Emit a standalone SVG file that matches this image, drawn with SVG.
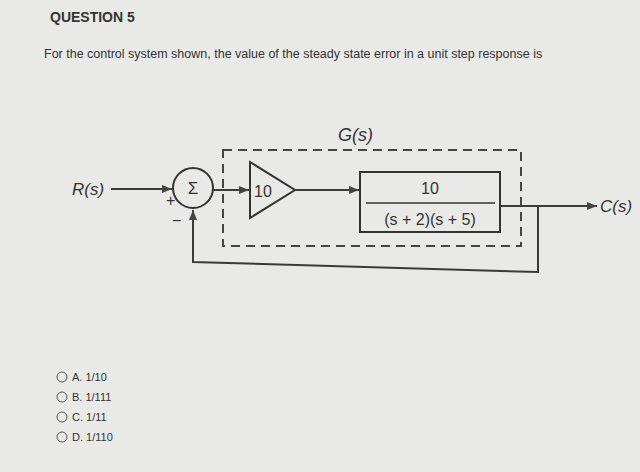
<svg xmlns="http://www.w3.org/2000/svg" width="640" height="472" viewBox="0 0 640 472">
<defs><marker id="a" markerWidth="10" markerHeight="8" refX="10" refY="4" orient="auto" markerUnits="userSpaceOnUse"><path d="M0,0L10,4L0,8z" fill="#444"/></marker>
<style>.l{stroke:#3a3a3a;stroke-width:2;fill:none}.t{font-family:"Liberation Sans",Arial,sans-serif;fill:#333}</style></defs>
<rect width="640" height="472" fill="#e9e9e7"/>
<text class="t" x="50" y="22" font-size="14" font-weight="bold" fill="#222">QUESTION 5</text>
<text class="t" x="44" y="58" font-size="12.5">For the control system shown, the value of the steady state error in a unit step response is</text>
<g id="gs"><rect x="223" y="150" width="298" height="96" fill="none" stroke="#444" stroke-width="2" stroke-dasharray="9,6"/><text class="t" x="338" y="141" font-size="18" font-style="italic">G(s)</text></g>
<g id="sum"><circle cx="193" cy="188" r="20" fill="none" stroke="#333" stroke-width="2"/><text class="t" x="193" y="194" font-size="17" text-anchor="middle">Σ</text><text class="t" x="166" y="206" font-size="16">+</text><text class="t" x="172" y="226" font-size="16">−</text></g>
<g id="gain"><path d="M250,162L295,190L250,218z" fill="none" stroke="#333" stroke-width="2"/><text class="t" x="254" y="197" font-size="16">10</text></g>
<g id="plant"><rect x="360" y="172" width="140" height="60" fill="none" stroke="#333" stroke-width="2"/><line x1="366" y1="203" x2="495" y2="203" stroke="#333" stroke-width="1.5"/><text class="t" x="430" y="194" font-size="16" text-anchor="middle">10</text><text class="t" x="430" y="225" font-size="16" text-anchor="middle">(s + 2)(s + 5)</text></g>
<g id="labels"><text class="t" x="72" y="195" font-size="17" font-style="italic">R(s)</text><text class="t" x="600" y="212" font-size="17" font-style="italic">C(s)</text></g>
<g id="connectors">
<line class="l" x1="111" y1="189" x2="172" y2="189" marker-end="url(#a)"/>
<line class="l" x1="213" y1="190" x2="249" y2="190" marker-end="url(#a)"/>
<line class="l" x1="295" y1="190" x2="359" y2="190" marker-end="url(#a)"/>
<polyline class="l" points="500,206 597,206" marker-end="url(#a)"/>
<polyline class="l" points="538,206 538,272 193,262 193,210" marker-end="url(#a)"/>
</g>
<g id="options">
<circle cx="62" cy="377" r="5" fill="none" stroke="#555"/><text class="t" x="72" y="381" font-size="11">A. 1/10</text>
<circle cx="62" cy="397" r="5" fill="none" stroke="#555"/><text class="t" x="72" y="401" font-size="11">B. 1/111</text>
<circle cx="62" cy="417" r="5" fill="none" stroke="#555"/><text class="t" x="72" y="421" font-size="11">C. 1/11</text>
<circle cx="62" cy="437" r="5" fill="none" stroke="#555"/><text class="t" x="72" y="441" font-size="11">D. 1/110</text>
</g>
</svg>
